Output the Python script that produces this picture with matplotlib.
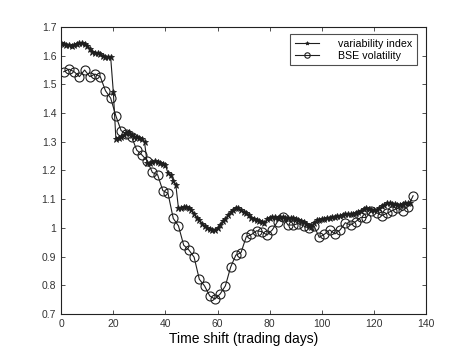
import numpy as np
import matplotlib
matplotlib.use('Agg')
import matplotlib.pyplot as plt
from matplotlib.ticker import FixedLocator, FixedFormatter

plt.rcParams['font.family'] = ['Liberation Sans', 'DejaVu Sans']

# variability index, one value per trading day (0..134)
var_days = np.arange(0, 135)
var_index = [
    1.643, 1.640, 1.638, 1.636, 1.634, 1.638, 1.641, 1.643, 1.645, 1.640,
    1.634, 1.625, 1.614, 1.610, 1.608, 1.606, 1.600, 1.597, 1.595, 1.594,
    1.475, 1.310, 1.312, 1.318, 1.322, 1.330, 1.335, 1.325, 1.318, 1.318,
    1.312, 1.310, 1.298, 1.225, 1.225, 1.230, 1.232, 1.228, 1.227, 1.222,
    1.219, 1.190, 1.184, 1.165, 1.149, 1.068, 1.070, 1.072, 1.074, 1.068,
    1.062, 1.050, 1.035, 1.028, 1.015, 1.005, 0.999, 0.995, 0.993, 0.993,
    0.999, 1.010, 1.025, 1.030, 1.045, 1.055, 1.063, 1.070, 1.068, 1.062,
    1.056, 1.052, 1.045, 1.035, 1.030, 1.028, 1.025, 1.020, 1.018, 1.030,
    1.035, 1.039, 1.038, 1.036, 1.037, 1.037, 1.036, 1.035, 1.034, 1.033,
    1.030, 1.027, 1.024, 1.022, 1.015, 1.008, 1.004, 1.018, 1.027, 1.028,
    1.030, 1.032, 1.033, 1.035, 1.037, 1.039, 1.041, 1.043, 1.044, 1.047,
    1.048, 1.050, 1.050, 1.051, 1.055, 1.060, 1.065, 1.068, 1.066, 1.064,
    1.062, 1.062, 1.068, 1.075, 1.080, 1.086, 1.086, 1.083, 1.082, 1.080,
    1.080, 1.082, 1.085, 1.086, 1.086,
]

# BSE volatility, every second day (1..135)
bse_days = np.arange(1, 136, 2)
bse_vol = [
    1.544, 1.553, 1.544, 1.527, 1.550, 1.527, 1.536, 1.527, 1.478, 1.452,
    1.390, 1.339, 1.327, 1.318, 1.271, 1.254, 1.234, 1.193, 1.185, 1.130,
    1.120, 1.033, 1.007, 0.940, 0.923, 0.898, 0.821, 0.798, 0.763, 0.752,
    0.770, 0.798, 0.863, 0.905, 0.914, 0.969, 0.977, 0.990, 0.987, 0.975,
    0.993, 1.022, 1.039, 1.010, 1.010, 1.015, 1.007, 0.999, 1.007, 0.967,
    0.978, 0.993, 0.979, 0.993, 1.018, 1.010, 1.022, 1.037, 1.036, 1.060,
    1.053, 1.043, 1.051, 1.060, 1.068, 1.060, 1.074, 1.112,
]

x_ticks = [0, 20, 40, 60, 80, 100, 120, 140]
y_ticks = [0.7, 0.8, 0.9, 1.0, 1.1, 1.2, 1.3, 1.4, 1.5, 1.6, 1.7]
y_labels = ['0.7', '0.8', '0.9', '1', '1.1', '1.2', '1.3', '1.4', '1.5', '1.6', '1.7']

fig = plt.figure(figsize=(4.74, 3.55), dpi=100)
ax = fig.add_axes([0.129, 0.1155, 0.77, 0.8085])

col = '#1e1e1e'
ax.plot(var_days, var_index, color=col, lw=0.8, marker='*', ms=4.5,
        mfc=col, mec=col, mew=0.6, label='variability index')
ax.plot(bse_days, bse_vol, color=col, lw=0.8, marker='o', ms=6.5,
        mfc='none', mec=col, mew=0.8, label='BSE volatility')

ax.set_xlim(0, 140)
ax.set_ylim(0.7, 1.7)
ax.xaxis.set_major_locator(FixedLocator(x_ticks))
ax.yaxis.set_major_locator(FixedLocator(y_ticks))
ax.yaxis.set_major_formatter(FixedFormatter(y_labels))
ax.tick_params(direction='in', top=True, right=True, labelsize=7.5,
               length=3, width=0.6, colors='#333333')
for s in ax.spines.values():
    s.set_linewidth(0.8)
    s.set_color('#222222')

ax.set_xlabel('Time shift (trading days)', fontsize=10, labelpad=2)

leg = ax.legend(loc='upper right', fontsize=7.7, frameon=True, fancybox=False,
                handlelength=2.2, handletextpad=1.8, borderpad=0.45,
                labelspacing=0.15, markerscale=0.6, borderaxespad=0,
                bbox_to_anchor=(0.975, 0.975))
leg.get_frame().set_edgecolor('#222222')
leg.get_frame().set_linewidth(0.8)

fig.savefig('out.png', dpi=100)
